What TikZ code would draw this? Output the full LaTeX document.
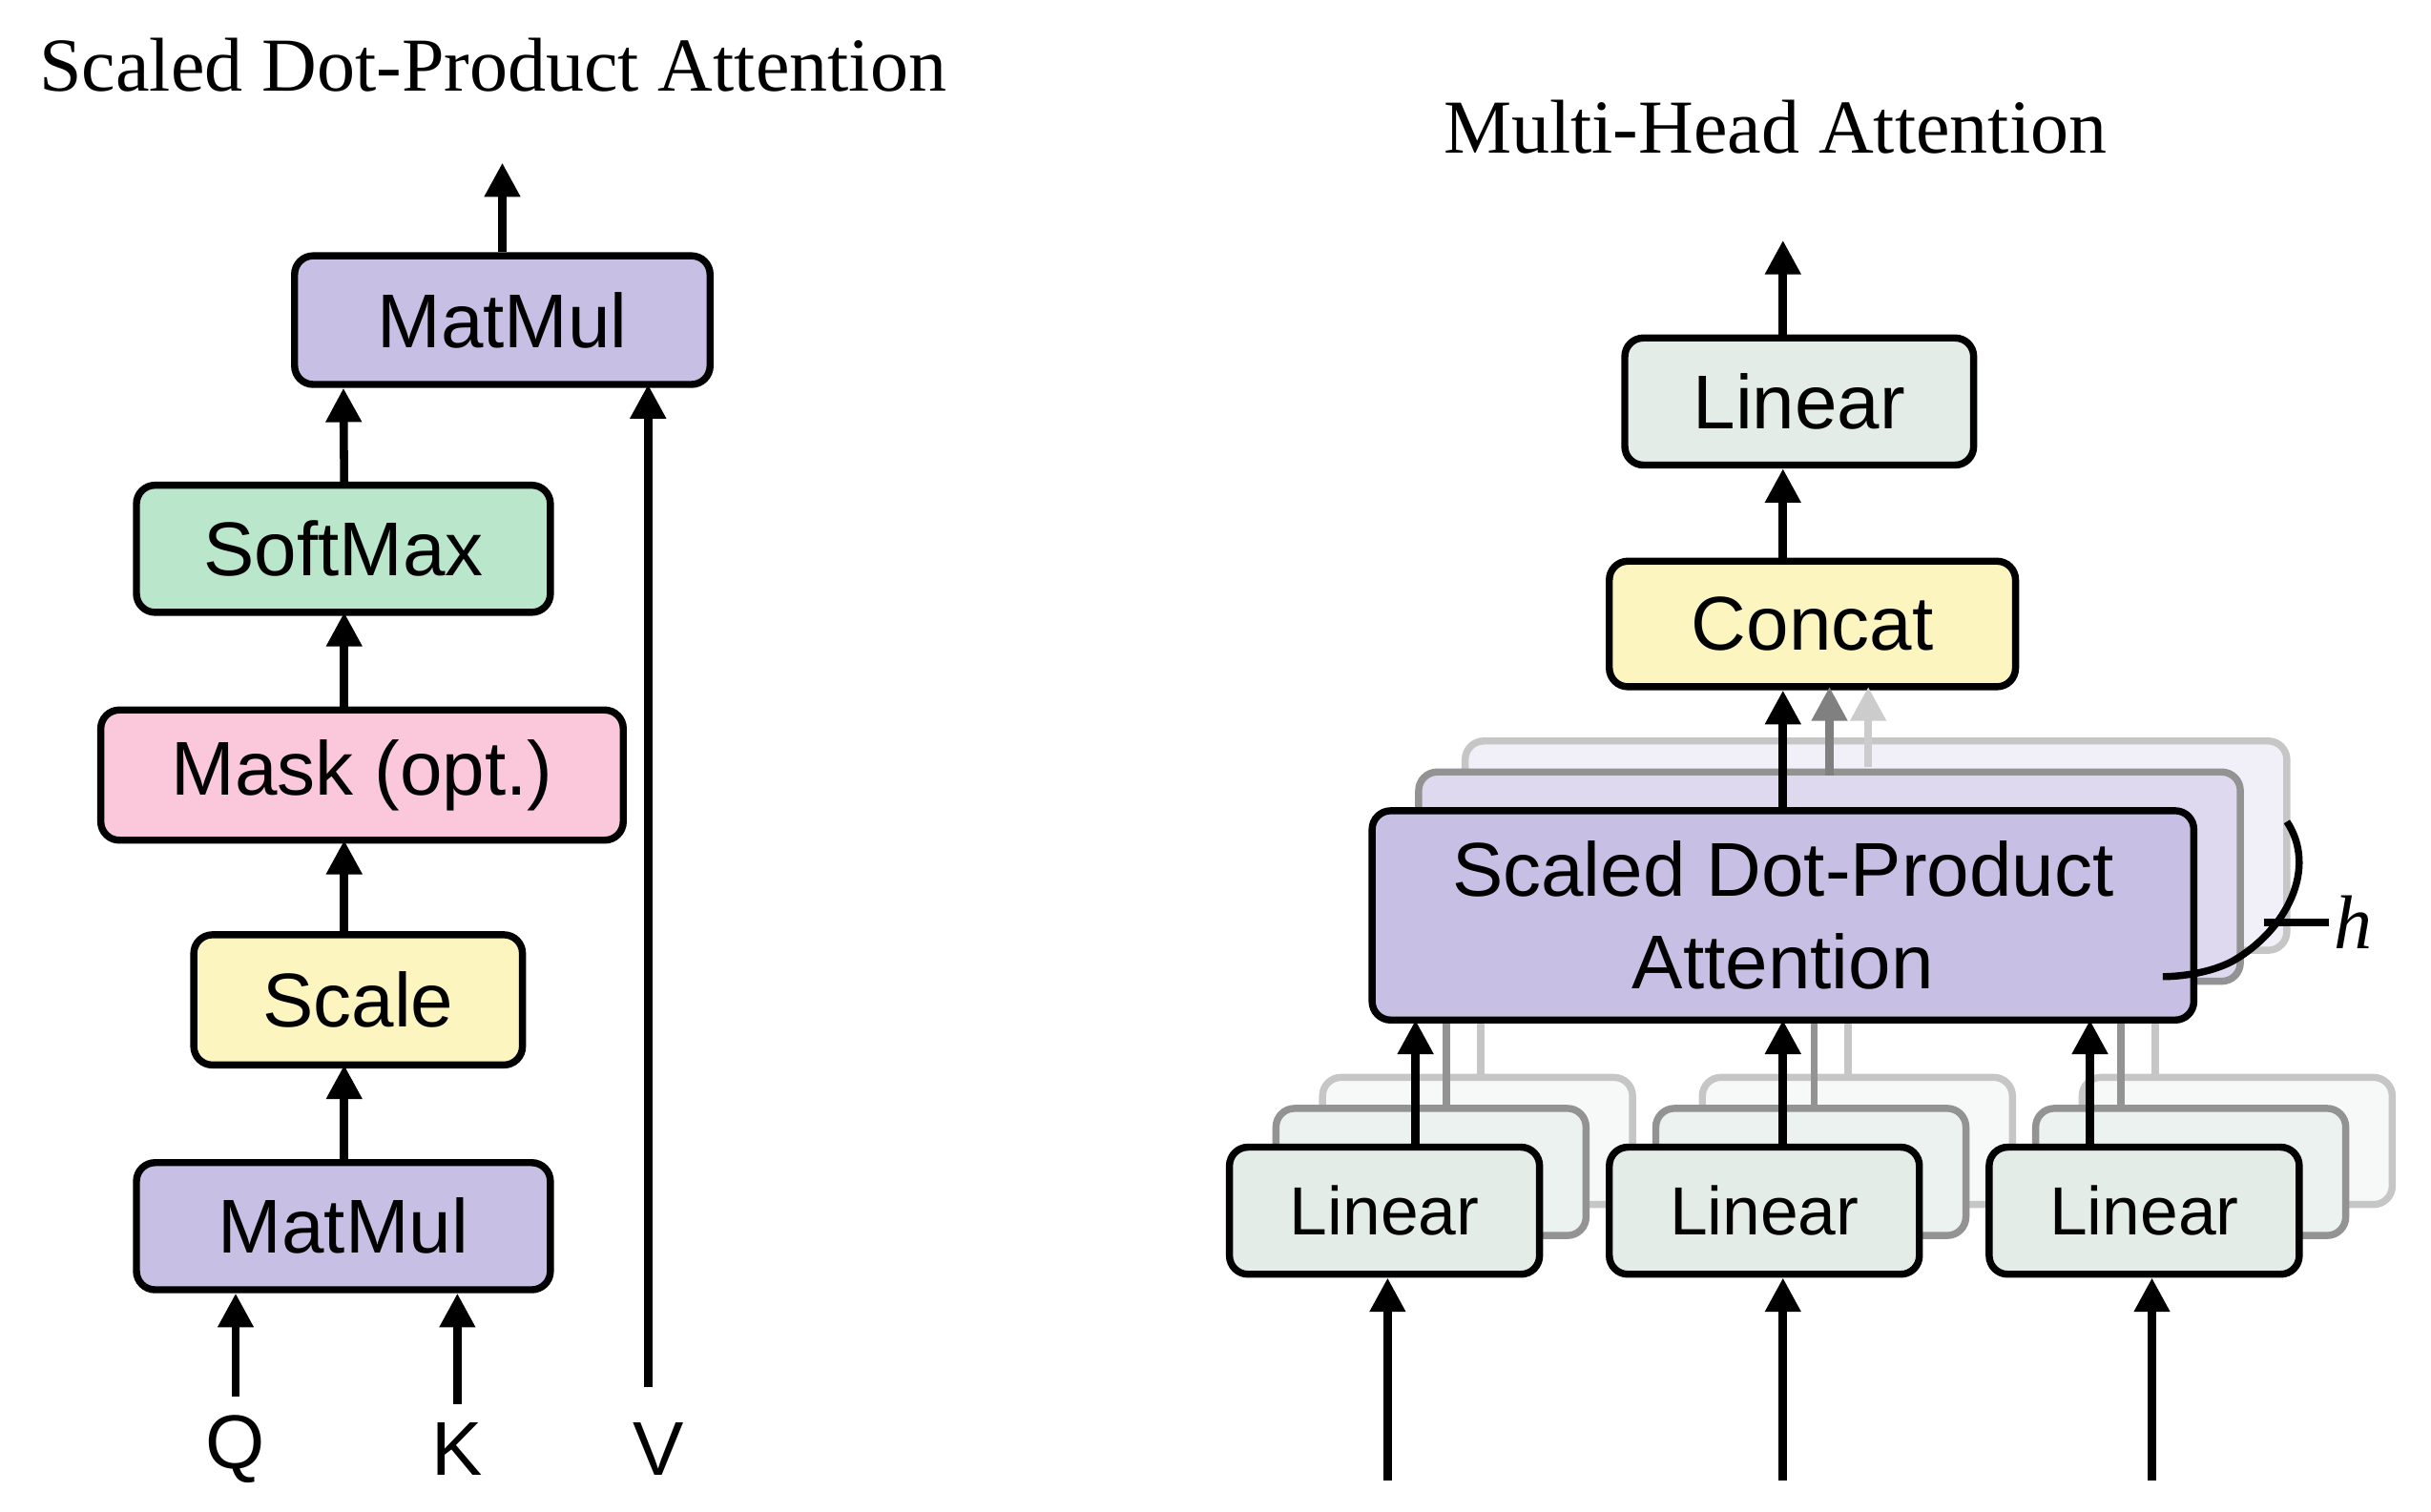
\documentclass[tikz,border=0pt]{standalone}
\usepackage{fontspec}
\setmainfont{Liberation Serif}
\setsansfont{Liberation Sans}
\usetikzlibrary{arrows.meta}
\definecolor{cpurple}{RGB}{200,192,228}
\definecolor{cgreen}{RGB}{186,230,204}
\definecolor{cpink}{RGB}{250,200,218}
\definecolor{cyellow}{RGB}{252,245,192}
\definecolor{clin}{RGB}{228,236,232}
\begin{document}
\begin{tikzpicture}[
  box/.style={draw, line width=1.3pt, rounded corners=0.12cm, font=\sffamily\fontsize{14}{16}\selectfont, inner sep=0pt},
  ghost/.style={draw=#1, line width=1.3pt, rounded corners=0.12cm},
  arr/.style={-{Triangle[length=0.22cm,width=0.22cm]}, line width=1.5pt},
  title/.style={font=\fontsize{14}{16}\selectfont}
]
\useasboundingbox (0,0) rectangle (15.68,-9.75);

% left: scaled dot-product attention
\node[title] (t1) at (3.18,-0.42) {Scaled Dot-Product Attention};
\node[box, fill=cpurple, minimum width=2.68cm, minimum height=0.83cm] (mm2) at (3.24,-2.065) {MatMul};
\node[box, fill=cgreen, minimum width=2.67cm, minimum height=0.82cm] (sm) at (2.215,-3.54) {SoftMax};
\node[box, fill=cpink, minimum width=3.37cm, minimum height=0.84cm] (mask) at (2.335,-5.0) {Mask (opt.)};
\node[box, fill=cyellow, minimum width=2.12cm, minimum height=0.84cm] (scale) at (2.31,-6.45) {Scale};
\node[box, fill=cpurple, minimum width=2.67cm, minimum height=0.82cm] (mm1) at (2.215,-7.91) {MatMul};
\node[font=\sffamily\fontsize{14}{16}\selectfont] (q) at (1.52,-9.35) {Q};
\node[font=\sffamily\fontsize{14}{16}\selectfont] (k) at (2.95,-9.35) {K};
\node[font=\sffamily\fontsize{14}{16}\selectfont] (v) at (4.25,-9.35) {V};
\coordinate (out1) at (3.24,-1.05);
\coordinate (vtop) at (4.18,-2.48);

\draw[arr] (mm2.north) -- (out1);
\draw[arr] (2.22,-3.13) -- (sm.north |- mm2.south);
\draw[arr] (2.22,-4.58) -- (2.22,-3.95);
\draw[arr] (2.22,-6.03) -- (2.22,-5.42);
\draw[arr] (2.22,-7.5) -- (2.22,-6.87);
\draw[arr] (q.north) -- (q.north |- mm1.south);
\draw[arr] (k.north) -- (k.north |- mm1.south);
\draw[arr] (4.18,-8.95) -- (vtop);

% right: multi-head attention
\node[title] (t2) at (11.45,-0.82) {Multi-Head Attention};
\node[box, fill=clin, minimum width=2.25cm, minimum height=0.82cm] (lin) at (11.605,-2.59) {Linear};
\node[box, fill=cyellow, minimum width=2.62cm, minimum height=0.81cm] (concat) at (11.69,-4.025) {Concat};

% stacked copies
\foreach \dx/\dy/\c/\d in {0.6/0.45/cpurple!25/gray!45, 0.3/0.25/cpurple!60/gray!85}{
  \draw[ghost=\d, fill=\c] (8.85+\dx,-6.58+\dy) rectangle (14.15+\dx,-5.23+\dy);
}
\foreach \x in {8.93,11.38,13.83}{
  \foreach \dx/\dy/\c/\d in {0.6/0.45/clin!30/gray!45, 0.3/0.25/clin!70/gray!85}{
    \draw[ghost=\d, fill=\c] (\x-1.0+\dx,-8.22+\dy) rectangle (\x+1.0+\dx,-7.4+\dy);
  }
}
\foreach \x in {9.13,11.5,13.48}{
  \draw[line width=1.3pt, gray!85] (\x+0.2,-7.15) -- (\x+0.2,-6.35);
  \draw[line width=1.3pt, gray!45] (\x+0.42,-6.95) -- (\x+0.42,-6.15);
}
\draw[arr, draw=gray!40] (12.05,-4.95) -- (12.05,-4.43);
\draw[arr, draw=gray] (11.8,-5.0) -- (11.8,-4.43);

\node[box, fill=cpurple, minimum width=5.3cm, minimum height=1.35cm, align=center, font=\sffamily\fontsize{14}{17}\selectfont] (sdpa) at (11.5,-5.905) {Scaled Dot-Product\\Attention};
\node[box, fill=clin, minimum width=2.0cm, minimum height=0.82cm, font=\sffamily\fontsize{12.5}{15}\selectfont] (l1) at (8.93,-7.81) {Linear};
\node[box, fill=clin, minimum width=2.0cm, minimum height=0.82cm, font=\sffamily\fontsize{12.5}{15}\selectfont] (l2) at (11.38,-7.81) {Linear};
\node[box, fill=clin, minimum width=2.0cm, minimum height=0.82cm, font=\sffamily\fontsize{12.5}{15}\selectfont] (l3) at (13.83,-7.81) {Linear};
\coordinate (out2) at (11.5,-1.55);
\coordinate (i1) at (8.95,-9.55);
\coordinate (i2) at (11.5,-9.55);
\coordinate (i3) at (13.88,-9.55);

\draw[arr] (lin.north -| out2) -- (out2);
\draw[arr] (concat.north -| out2) -- (lin.south -| out2);
\draw[arr] (sdpa.north) -- (sdpa.north |- concat.south);
\draw[arr] (9.13,-7.4) -- (9.13,-6.58);
\draw[arr] (11.5,-7.4) -- (11.5,-6.58);
\draw[arr] (13.48,-7.4) -- (13.48,-6.58);
\draw[arr] (i1) -- (i1 |- l1.south);
\draw[arr] (i2) -- (i2 |- l2.south);
\draw[arr] (i3) -- (i3 |- l3.south);

% h marker
\draw[line width=1.3pt] (14.75,-5.3) .. controls (14.95,-5.6) and (14.75,-6.0) .. (14.4,-6.2) .. controls (14.25,-6.28) and (14.05,-6.3) .. (13.95,-6.3);
\draw[line width=1.3pt] (14.6,-5.95) -- (15.02,-5.95);
\node[font=\itshape\fontsize{14}{16}\selectfont] (h) at (15.18,-5.95) {h};
\end{tikzpicture}
\end{document}
